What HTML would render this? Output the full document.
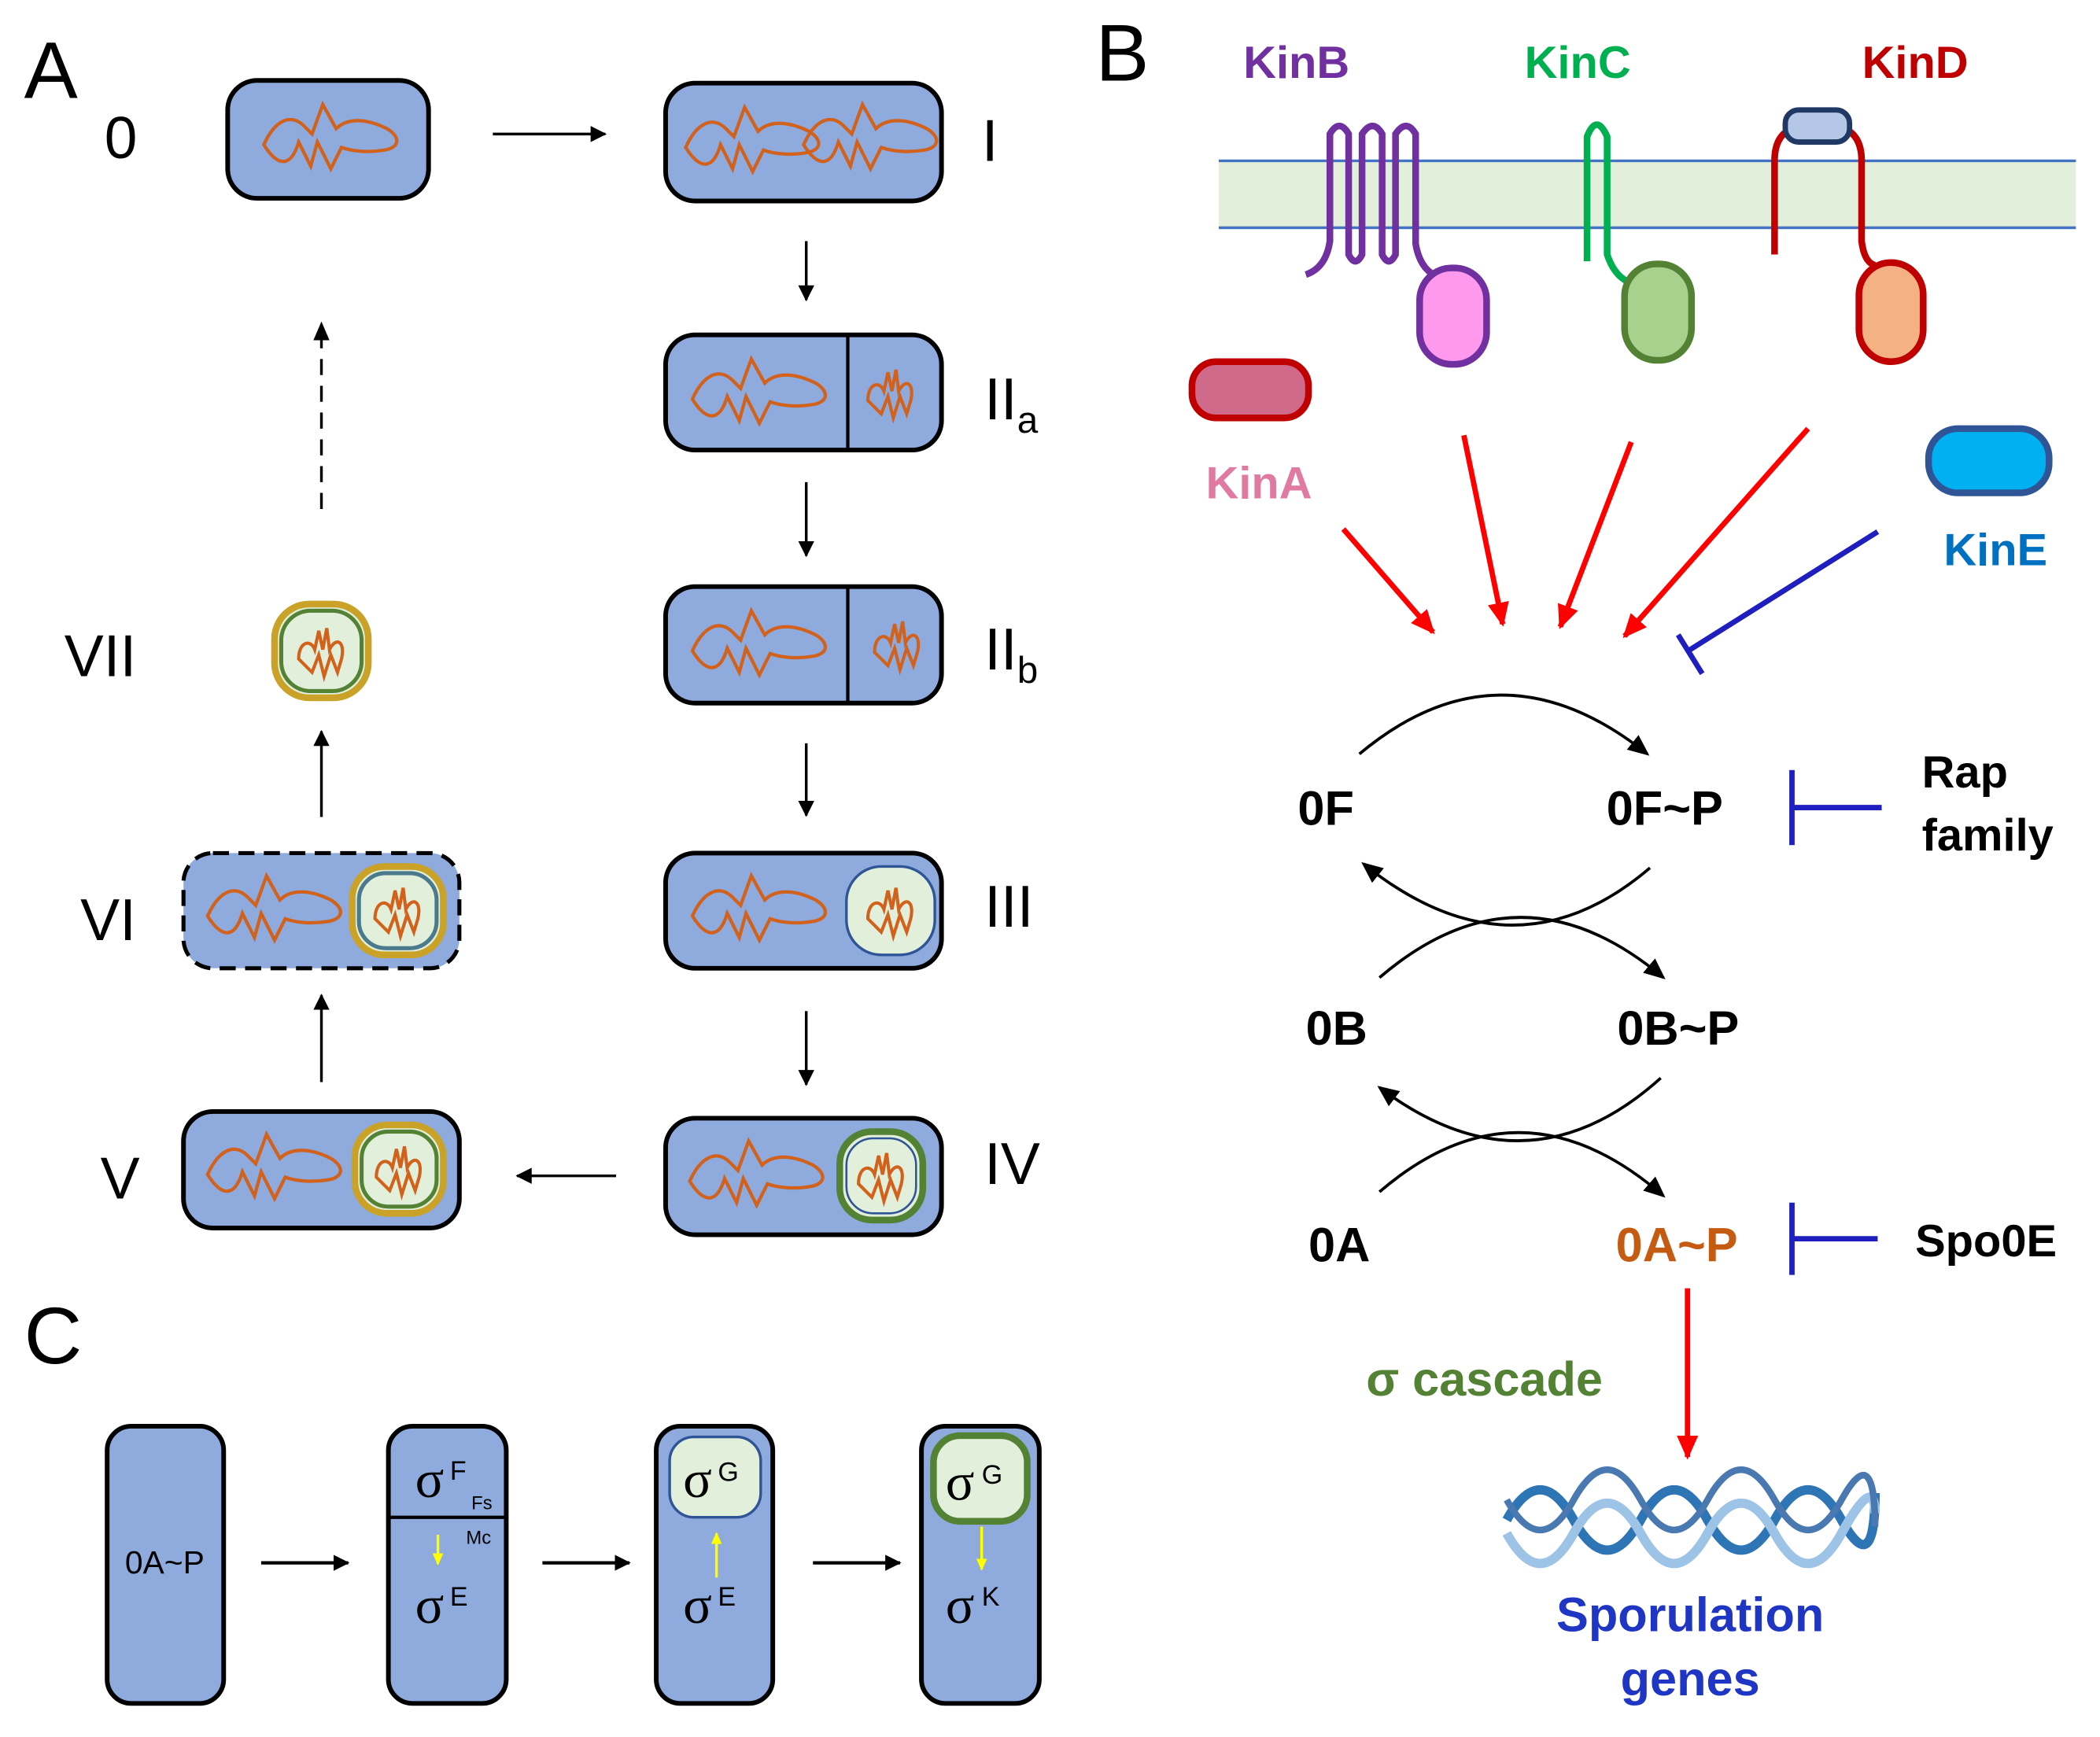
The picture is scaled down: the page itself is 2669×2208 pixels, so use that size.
<!DOCTYPE html>
<html><head><meta charset="utf-8"><style>
html,body{margin:0;padding:0;background:#fff;}
svg{display:block;}
text{font-family:"Liberation Sans",sans-serif;}
.b{font-weight:bold;}
.s{font-family:"Liberation Serif",serif;font-size:40px;}
</style></head><body>
<svg width="2669" height="2208" viewBox="0 0 1568 1297" xmlns="http://www.w3.org/2000/svg">
<defs>
<marker id="ak" markerWidth="14" markerHeight="14" refX="11" refY="6" orient="auto" markerUnits="userSpaceOnUse"><path d="M0,0 L12,6 L0,12 z" fill="#000"/></marker>
<marker id="ar" markerWidth="20" markerHeight="20" refX="16" refY="8" orient="auto" markerUnits="userSpaceOnUse"><path d="M0,0 L18,8 L0,16 z" fill="#f00"/></marker>
<marker id="ak2" markerWidth="18" markerHeight="18" refX="14" refY="7" orient="auto" markerUnits="userSpaceOnUse"><path d="M0,0 L16,7 L0,14 z" fill="#000"/></marker>
<marker id="ay" markerWidth="10" markerHeight="10" refX="8" refY="4" orient="auto" markerUnits="userSpaceOnUse"><path d="M0,0 L9,4 L0,8 z" fill="#ff0"/></marker>
<g id="chr"><path d="M-48,4 C-40,-14 -28,-20 -18,-10 L-12,-4 L-4,-26 L6,-8 C14,-16 28,-16 44,-8 C54,-2 54,6 42,8 C30,10 18,9 10,6 L2,22 L-8,2 L-13,20 L-22,2 C-28,22 -38,20 -48,4 Z" fill="none" stroke="#d2611b" stroke-width="2.5"/></g>
<g id="chs"><path d="M-17,5 C-17,-8 -8,-10 -5,-2 L-2,-16 L1,-2 L4,-18 L6,-2 C11,-12 18,-8 15,5 L12,15 L7,2 L2,18 L-2,2 L-7,15 Z" fill="none" stroke="#d2611b" stroke-width="2.4"/></g>
</defs>

<!-- Panel A -->
<text x="18" y="73" font-size="60">A</text>
<text x="78" y="118" font-size="44">0</text>
<rect x="170" y="60" width="150" height="88" rx="22" fill="#8faadc" stroke="#000" stroke-width="3.5"/>
<use href="#chr" x="245" y="104"/>
<line x1="368" y1="100" x2="452" y2="100" stroke="#000" stroke-width="2" marker-end="url(#ak)"/>

<rect x="497" y="62" width="206" height="88" rx="22" fill="#8faadc" stroke="#000" stroke-width="3.5"/>
<use href="#chr" x="560" y="106"/><use href="#chr" x="648" y="104"/>
<text x="733" y="120" font-size="44">I</text>
<line x1="602" y1="180" x2="602" y2="224" stroke="#000" stroke-width="2" marker-end="url(#ak)"/>

<rect x="497" y="250" width="206" height="86" rx="22" fill="#8faadc" stroke="#000" stroke-width="3.5"/>
<line x1="633" y1="250" x2="633" y2="336" stroke="#000" stroke-width="2.5"/>
<use href="#chr" x="565" y="294"/><use href="#chs" x="665" y="294"/>
<text x="735" y="313" font-size="44">II<tspan font-size="28" dy="10">a</tspan></text>
<line x1="602" y1="360" x2="602" y2="415" stroke="#000" stroke-width="2" marker-end="url(#ak)"/>

<rect x="497" y="438" width="206" height="87" rx="22" fill="#8faadc" stroke="#000" stroke-width="3.5"/>
<line x1="633" y1="438" x2="633" y2="525" stroke="#000" stroke-width="2.5"/>
<use href="#chr" x="565" y="482"/><use href="#chs" x="670" y="482"/>
<text x="735" y="500" font-size="44">II<tspan font-size="28" dy="10">b</tspan></text>
<line x1="602" y1="555" x2="602" y2="609" stroke="#000" stroke-width="2" marker-end="url(#ak)"/>

<rect x="497" y="637" width="206" height="86" rx="22" fill="#8faadc" stroke="#000" stroke-width="3.5"/>
<use href="#chr" x="565" y="680"/>
<rect x="632" y="647" width="66" height="66" rx="26" fill="#e2efda" stroke="#2f5597" stroke-width="2"/>
<use href="#chs" x="665" y="681"/>
<text x="735" y="692" font-size="44">III</text>
<line x1="602" y1="755" x2="602" y2="810" stroke="#000" stroke-width="2" marker-end="url(#ak)"/>

<rect x="497" y="835" width="206" height="87" rx="22" fill="#8faadc" stroke="#000" stroke-width="3.5"/>
<use href="#chr" x="563" y="878"/>
<rect x="627" y="845" width="62" height="66" rx="24" fill="#e2efda" stroke="#548235" stroke-width="5"/>
<rect x="632" y="850" width="52" height="56" rx="20" fill="none" stroke="#2f5597" stroke-width="1.5"/>
<use href="#chs" x="658" y="879"/>
<text x="735" y="884" font-size="44">IV</text>
<line x1="460" y1="878" x2="386" y2="878" stroke="#000" stroke-width="2" marker-end="url(#ak)"/>

<rect x="137" y="830" width="206" height="87" rx="22" fill="#8faadc" stroke="#000" stroke-width="3.5"/>
<use href="#chr" x="203" y="873"/>
<rect x="265" y="840" width="66" height="66" rx="24" fill="#e2efda" stroke="#c9a227" stroke-width="5"/>
<rect x="270" y="845" width="56" height="56" rx="20" fill="none" stroke="#548235" stroke-width="3"/>
<use href="#chs" x="298" y="874"/>
<text x="75" y="895" font-size="44">V</text>
<line x1="240" y1="808" x2="240" y2="743" stroke="#000" stroke-width="2" marker-end="url(#ak)"/>

<rect x="137" y="637" width="206" height="86" rx="22" fill="#8faadc" stroke="#000" stroke-width="3" stroke-dasharray="12,7"/>
<use href="#chr" x="203" y="680"/>
<rect x="263" y="647" width="68" height="66" rx="24" fill="#e2efda" stroke="#c9a227" stroke-width="5"/>
<rect x="268" y="652" width="58" height="56" rx="20" fill="none" stroke="#4a7a8c" stroke-width="3"/>
<use href="#chs" x="297" y="681"/>
<text x="60" y="702" font-size="44">VI</text>
<line x1="240" y1="610" x2="240" y2="546" stroke="#000" stroke-width="2" marker-end="url(#ak)"/>

<rect x="205" y="451" width="70" height="70" rx="26" fill="#e2efda" stroke="#c9a227" stroke-width="5"/>
<rect x="210" y="456" width="60" height="60" rx="22" fill="none" stroke="#548235" stroke-width="3"/>
<use href="#chs" x="240" y="487"/>
<text x="48" y="505" font-size="44">VII</text>
<line x1="240" y1="380" x2="240" y2="252" stroke="#000" stroke-width="2" stroke-dasharray="12,8"/>
<path d="M234,254 L240,240 L246,254 z" fill="#000"/>

<!-- Panel C -->
<text x="18" y="1018" font-size="60">C</text>
<rect x="80" y="1065" width="87" height="207" rx="18" fill="#8faadc" stroke="#000" stroke-width="3.5"/>
<text x="123" y="1175" font-size="24" text-anchor="middle">0A~P</text>
<line x1="195" y1="1167" x2="260" y2="1167" stroke="#000" stroke-width="2.5" marker-end="url(#ak)"/>
<rect x="290" y="1065" width="88" height="207" rx="18" fill="#8faadc" stroke="#000" stroke-width="3.5"/>
<line x1="290" y1="1133" x2="378" y2="1133" stroke="#000" stroke-width="2.5"/>
<text x="310" y="1118" class="s">σ</text><text x="336" y="1105" font-size="20">F</text><text x="352" y="1127" font-size="14">Fs</text>
<text x="348" y="1153" font-size="14">Mc</text>
<line x1="327" y1="1146" x2="327" y2="1168" stroke="#ff0" stroke-width="2" marker-end="url(#ay)"/>
<text x="310" y="1212" class="s">σ</text><text x="336" y="1199" font-size="20">E</text>
<line x1="405" y1="1167" x2="470" y2="1167" stroke="#000" stroke-width="2.5" marker-end="url(#ak)"/>
<rect x="490" y="1065" width="87" height="207" rx="18" fill="#8faadc" stroke="#000" stroke-width="3.5"/>
<rect x="500" y="1073" width="68" height="60" rx="18" fill="#e2efda" stroke="#2f5597" stroke-width="2"/>
<text x="510" y="1118" class="s">σ</text><text x="536" y="1106" font-size="20">G</text>
<line x1="535" y1="1178" x2="535" y2="1145" stroke="#ff0" stroke-width="2" marker-end="url(#ay)"/>
<text x="510" y="1212" class="s">σ</text><text x="536" y="1199" font-size="20">E</text>
<line x1="607" y1="1167" x2="672" y2="1167" stroke="#000" stroke-width="2.5" marker-end="url(#ak)"/>
<rect x="688" y="1065" width="88" height="207" rx="18" fill="#8faadc" stroke="#000" stroke-width="3.5"/>
<rect x="697" y="1072" width="70" height="64" rx="20" fill="#e2efda" stroke="#548235" stroke-width="5"/>
<text x="706" y="1120" class="s">σ</text><text x="733" y="1108" font-size="20">G</text>
<line x1="733" y1="1140" x2="733" y2="1172" stroke="#ff0" stroke-width="2" marker-end="url(#ay)"/>
<text x="706" y="1212" class="s">σ</text><text x="733" y="1199" font-size="20">K</text>

<!-- Panel B -->
<text x="818" y="60" font-size="60">B</text>
<text x="968" y="58" font-size="34" class="b" fill="#7030a0" text-anchor="middle">KinB</text>
<text x="1178" y="58" font-size="34" class="b" fill="#00b050" text-anchor="middle">KinC</text>
<text x="1430" y="58" font-size="34" class="b" fill="#c00000" text-anchor="middle">KinD</text>
<rect x="910" y="120" width="640" height="50" fill="#e2efda"/>
<line x1="910" y1="120" x2="1550" y2="120" stroke="#4472c4" stroke-width="2"/>
<line x1="910" y1="170" x2="1550" y2="170" stroke="#4472c4" stroke-width="2"/>
<path d="M975,205 Q990,200 993,180 L993,100 Q1000,88 1007,100 L1007,190 Q1012,200 1017,190 L1017,100 Q1025,88 1032,100 L1032,190 Q1037,200 1042,190 L1042,100 Q1050,88 1057,100 L1057,182 Q1060,200 1072,206" fill="none" stroke="#7030a0" stroke-width="5"/>
<rect x="1060" y="200" width="50" height="72" rx="24" fill="#ff99ee" stroke="#7030a0" stroke-width="5"/>
<path d="M1185,195 L1185,102 Q1192,84 1200,102 L1200,190 Q1205,205 1215,210" fill="none" stroke="#00b050" stroke-width="5"/>
<rect x="1213" y="197" width="50" height="72" rx="24" fill="#a9d18e" stroke="#548235" stroke-width="5"/>
<path d="M1325,190 L1325,120 Q1325,100 1340,95 M1375,95 Q1390,100 1390,120 L1390,180 Q1392,196 1400,198" fill="none" stroke="#c00000" stroke-width="5"/>
<rect x="1333" y="82" width="48" height="24" rx="10" fill="#b4c7e7" stroke="#203864" stroke-width="4"/>
<rect x="1388" y="196" width="48" height="74" rx="24" fill="#f4b183" stroke="#c00000" stroke-width="5"/>
<rect x="890" y="270" width="87" height="42" rx="18" fill="#d06a8a" stroke="#c00000" stroke-width="5"/>
<text x="940" y="372" font-size="34" class="b" fill="#e07aa0" text-anchor="middle">KinA</text>
<rect x="1440" y="320" width="90" height="48" rx="22" fill="#00b0f0" stroke="#2f5597" stroke-width="5"/>
<text x="1490" y="422" font-size="34" class="b" fill="#0070c0" text-anchor="middle">KinE</text>
<g stroke="#f00" stroke-width="4" marker-end="url(#ar)">
<line x1="1003" y1="395" x2="1070" y2="472"/>
<line x1="1093" y1="325" x2="1122" y2="466"/>
<line x1="1218" y1="330" x2="1165" y2="468"/>
<line x1="1350" y1="320" x2="1213" y2="475"/>
<line x1="1260" y1="962" x2="1260" y2="1088"/>
</g>
<line x1="1402" y1="397" x2="1262" y2="485" stroke="#1f1fbf" stroke-width="4"/>
<line x1="1253" y1="474" x2="1271" y2="503" stroke="#1f1fbf" stroke-width="4"/>
<g font-size="36" class="b" text-anchor="middle">
<text x="990" y="616">0F</text>
<text x="1243" y="616">0F~P</text>
<text x="998" y="780">0B</text>
<text x="1253" y="780">0B~P</text>
<text x="1000" y="942">0A</text>
<text x="1252" y="942" fill="#c55a11">0A~P</text>
</g>
<g fill="none" stroke="#000" stroke-width="2.2" marker-end="url(#ak2)">
<path d="M1015,563 Q1120,475 1230,563"/>
<path d="M1232,648 Q1130,735 1018,645"/>
<path d="M1030,730 Q1135,640 1242,730"/>
<path d="M1240,805 Q1140,895 1030,812"/>
<path d="M1030,890 Q1135,800 1242,893"/>
</g>
<g stroke="#1f1fbf" stroke-width="4">
<line x1="1338" y1="575" x2="1338" y2="631"/><line x1="1338" y1="603" x2="1405" y2="603"/>
<line x1="1338" y1="898" x2="1338" y2="952"/><line x1="1338" y1="925" x2="1402" y2="925"/>
</g>
<text x="1435" y="588" font-size="34" class="b">Rap</text>
<text x="1435" y="635" font-size="34" class="b">family</text>
<text x="1430" y="938" font-size="34" class="b">Spo0E</text>
<text x="1020" y="1042" font-size="36" class="b" fill="#548235">σ cascade</text>
<g fill="none" stroke-width="7">
<path d="M1125,1135 Q1150,1090 1175,1135 T1225,1135 T1275,1135 T1325,1135 T1375,1135 T1400,1115" stroke="#2e75b6"/>
<path d="M1125,1145 Q1150,1190 1175,1145 T1225,1145 T1275,1145 T1325,1145 T1375,1145 T1400,1130" stroke="#9dc3e6"/>
<path d="M1125,1120 Q1150,1165 1175,1120 T1225,1120 T1275,1120 T1325,1120 T1375,1120 T1400,1140" stroke="#4a78b0" stroke-width="5"/>
</g>
<text x="1262" y="1218" font-size="36" class="b" fill="#1f35c4" text-anchor="middle">Sporulation</text>
<text x="1262" y="1266" font-size="36" class="b" fill="#1f35c4" text-anchor="middle">genes</text>
</svg>
</body></html>
